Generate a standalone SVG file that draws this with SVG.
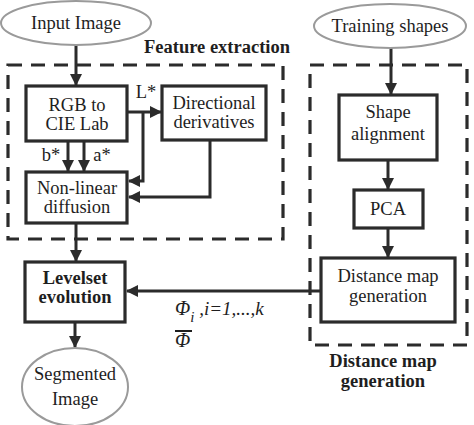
<svg xmlns="http://www.w3.org/2000/svg" width="474" height="425" viewBox="0 0 474 425">
<defs>
<style>
.t{font-family:"Liberation Serif","DejaVu Serif","Times New Roman",serif;font-size:18.5px;fill:#1e1e1e;text-anchor:middle}
.b{font-weight:bold}
.i{font-style:italic}
.box{fill:#fff;stroke:#2b2b2b;stroke-width:3.2}
.ell{fill:#fff;stroke:#9a9a9a;stroke-width:2}
.dash{fill:none;stroke:#2b2b2b;stroke-width:3.2;stroke-dasharray:14 9}
.c{fill:none;stroke:#2b2b2b;stroke-width:3;marker-end:url(#ah)}
</style>
<marker id="ah" markerUnits="userSpaceOnUse" markerWidth="12" markerHeight="12" viewBox="0 0 12 12" refX="11" refY="6" orient="auto">
<path d="M0,0 L12,6 L0,12 Z" fill="#2b2b2b"/>
</marker>
</defs>
<rect width="474" height="425" fill="#fff"/>

<g id="feature-extraction-group">
<rect class="dash" x="8" y="65" width="275" height="174"/>
<text class="t b" x="217" y="53">Feature extraction</text>
</g>
<g id="distance-map-group">
<rect class="dash" x="310" y="65" width="157" height="280"/>
<text class="t b" x="383" y="367">Distance map</text>
<text class="t b" x="383" y="387">generation</text>
</g>

<g id="connectors">
<line class="c" x1="76" y1="45" x2="76" y2="85"/>
<line class="c" x1="127" y1="112" x2="161" y2="112"/>
<polyline class="c" points="143,112 143,181 129,181"/>
<polyline class="c" points="210,140 210,197 129,197"/>
<line class="c" x1="68" y1="142" x2="68" y2="171"/>
<line class="c" x1="84" y1="142" x2="84" y2="171"/>
<line class="c" x1="76" y1="224" x2="76" y2="261"/>
<line class="c" x1="75" y1="323" x2="75" y2="347"/>
<line class="c" x1="391" y1="48" x2="391" y2="94"/>
<line class="c" x1="388" y1="160" x2="388" y2="189"/>
<line class="c" x1="388" y1="228" x2="388" y2="257"/>
<line class="c" x1="321" y1="291" x2="127" y2="291"/>
<text class="t" x="146" y="98">L*</text>
<text class="t" x="51" y="161">b*</text>
<text class="t" x="102" y="161">a*</text>
<text class="t i" x="175" y="315" style="text-anchor:start;font-size:20px">Φ<tspan font-size="15" dy="7">i</tspan><tspan dy="-7" font-size="19"> ,i=1,...,k</tspan></text>
<line x1="175" y1="331" x2="192" y2="331" stroke="#1e1e1e" stroke-width="2"/>
<text class="t i" x="175" y="347" style="text-anchor:start;font-size:20px">Φ</text>
</g>

<g id="input-image">
<ellipse class="ell" cx="76" cy="23" rx="75" ry="22"/>
<text class="t" x="76" y="29">Input Image</text>
</g>
<g id="training-shapes">
<ellipse class="ell" cx="390" cy="26" rx="76" ry="22"/>
<text class="t" x="390" y="32">Training shapes</text>
</g>
<g id="rgb-to-cielab">
<rect class="box" x="26" y="86" width="101" height="55"/>
<text class="t" x="77" y="111">RGB to</text>
<text class="t" x="77" y="130">CIE Lab</text>
</g>
<g id="directional-derivatives">
<rect class="box" x="162" y="86" width="104" height="54"/>
<text class="t" x="214" y="109">Directional</text>
<text class="t" x="214" y="128">derivatives</text>
</g>
<g id="non-linear-diffusion">
<rect class="box" x="26" y="172" width="101" height="51"/>
<text class="t" x="77" y="194">Non-linear</text>
<text class="t" x="77" y="213">diffusion</text>
</g>
<g id="levelset-evolution">
<rect class="box" x="25" y="262" width="100" height="60"/>
<text class="t b" x="75" y="284">Levelset</text>
<text class="t b" x="75" y="303">evolution</text>
</g>
<g id="segmented-image">
<ellipse class="ell" cx="75" cy="387" rx="53" ry="39"/>
<text class="t" x="75" y="380">Segmented</text>
<text class="t" x="75" y="405">Image</text>
</g>
<g id="shape-alignment">
<rect class="box" x="339" y="95" width="98" height="65"/>
<text class="t" x="388" y="118">Shape</text>
<text class="t" x="388" y="140">alignment</text>
</g>
<g id="pca">
<rect class="box" x="354" y="190" width="69" height="38"/>
<text class="t" x="388" y="215">PCA</text>
</g>
<g id="distance-map-generation">
<rect class="box" x="321" y="258" width="134" height="64"/>
<text class="t" x="388" y="282">Distance map</text>
<text class="t" x="388" y="302">generation</text>
</g>
</svg>
